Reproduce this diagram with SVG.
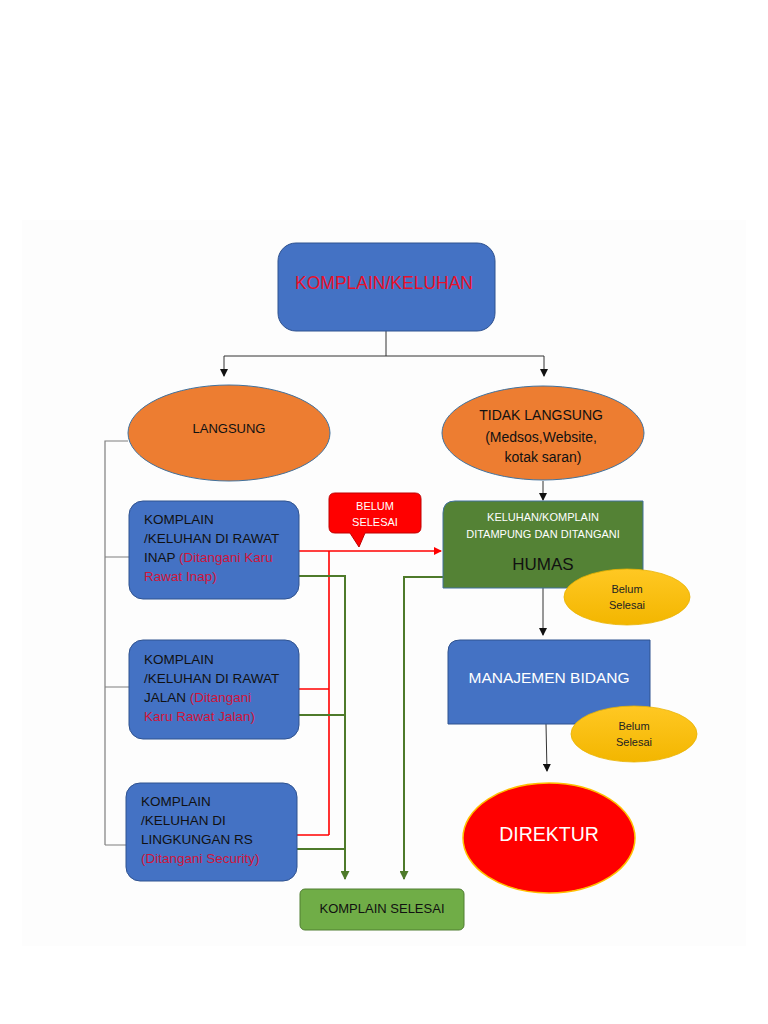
<svg xmlns="http://www.w3.org/2000/svg" width="768" height="1024" viewBox="0 0 768 1024">
<defs>
<style>
text{font-family:"Liberation Sans","Noto Sans",Arial,sans-serif}
.blue{fill:#4472c4;stroke:#2f528f;stroke-width:1}
.orange{fill:#ed7d31;stroke:#41719c;stroke-width:1}
.gold{fill:url(#g);stroke:#e8b200;stroke-width:0.8}
.gray{stroke:#7f7f7f;stroke-width:1.2;fill:none}
.red{stroke:#ff0000;stroke-width:1.6;fill:none}
.grn{stroke:#4e7a2a;stroke-width:2;fill:none}
.blk{stroke:#333;stroke-width:1;fill:none}
.t{font-size:13.5px;fill:#111}
.r{fill:#d0153a}
</style>
<linearGradient id="g" x1="0" y1="0" x2="0" y2="1">
<stop offset="0" stop-color="#ffc823"/>
<stop offset="1" stop-color="#f3b600"/>
</linearGradient>
<marker id="ab" markerWidth="8" markerHeight="8" refX="7" refY="4" orient="auto" markerUnits="userSpaceOnUse">
<path d="M0,0 L8,4 L0,8 Z" fill="#111"/>
</marker>
<marker id="ar" markerWidth="8" markerHeight="8" refX="7" refY="4" orient="auto" markerUnits="userSpaceOnUse">
<path d="M0,0 L8,4 L0,8 Z" fill="#ff0000"/>
</marker>
<marker id="ag" markerWidth="9" markerHeight="9" refX="8" refY="4.5" orient="auto" markerUnits="userSpaceOnUse">
<path d="M0,0 L9,4.5 L0,9 Z" fill="#4e7a2a"/>
</marker>
</defs>
<rect x="0" y="0" width="768" height="1024" fill="#ffffff"/>
<rect x="22" y="220" width="724" height="726" fill="#fdfdfd"/>

<g id="connectors">
<path class="blk" d="M386,331 V356 M224,356 H544 M224,356 V376" marker-end="url(#ab)"/>
<path class="blk" d="M544,356 V376" marker-end="url(#ab)"/>
<path class="blk" d="M543,481 V500" marker-end="url(#ab)"/>
<path class="blk" d="M543,588 V635" marker-end="url(#ab)"/>
<path class="blk" d="M546,724 L547,771" marker-end="url(#ab)"/>
<path class="gray" d="M128,441 H105 V845 M105,557 H129 M105,687 H129 M105,845 H126"/>
<path class="red" d="M299,551 H441" marker-end="url(#ar)"/>
<path class="red" d="M329,551 V835 M299,689 H329 M297,835 H329"/>
<path class="grn" d="M299,576 H345 V879" marker-end="url(#ag)"/>
<path class="grn" d="M299,715 H345 M297,849 H345"/>
<path class="grn" d="M443,577 H404 V879" marker-end="url(#ag)"/>
</g>

<g id="komplain">
<rect class="blue" x="278" y="243" width="217" height="88" rx="18"/>
<text x="384" y="289" font-size="17.5" fill="#e8102a" text-anchor="middle">KOMPLAIN/KELUHAN</text>
</g>

<g id="langsung">
<ellipse class="orange" cx="229" cy="433" rx="101" ry="48"/>
<text x="229" y="433" font-size="13" fill="#111" text-anchor="middle">LANGSUNG</text>
</g>

<g id="tidak-langsung">
<ellipse class="orange" cx="543" cy="433" rx="101" ry="47"/>
<text font-size="14" fill="#111" text-anchor="middle">
<tspan x="543" y="420">TIDAK LANGSUNG</tspan>
<tspan x="543" y="442">(Medsos,Website,</tspan>
<tspan x="543" y="462">kotak saran)</tspan>
</text>
</g>

<g id="rawat-inap">
<rect class="blue" x="129" y="501" width="170" height="98" rx="14"/>
<text class="t"><tspan x="144" y="524">KOMPLAIN</tspan><tspan x="144" y="543">/KELUHAN DI RAWAT</tspan><tspan x="144" y="562">INAP <tspan class="r">(Ditangani Karu</tspan></tspan><tspan x="144" y="581" class="r">Rawat Inap)</tspan></text>
</g>

<g id="rawat-jalan">
<rect class="blue" x="129" y="640" width="170" height="99" rx="14"/>
<text class="t"><tspan x="144" y="664">KOMPLAIN</tspan><tspan x="144" y="683">/KELUHAN DI RAWAT</tspan><tspan x="144" y="702">JALAN  <tspan class="r">(Ditangani</tspan></tspan><tspan x="144" y="721" class="r">Karu Rawat Jalan)</tspan></text>
</g>

<g id="lingkungan">
<rect class="blue" x="126" y="783" width="171" height="98" rx="14"/>
<text class="t"><tspan x="141" y="806">KOMPLAIN</tspan><tspan x="141" y="825">/KELUHAN DI</tspan><tspan x="141" y="844">LINGKUNGAN RS</tspan><tspan x="141" y="863" class="r">(Ditangani  Security)</tspan></text>
</g>

<g id="belum-selesai-callout">
<path d="M335,493 H415 Q421,493 421,499 V527 Q421,533 415,533 H365 L359,547 L350,533 H335 Q329,533 329,527 V499 Q329,493 335,493 Z" fill="#ff0000" stroke="#c00000" stroke-width="1"/>
<text font-size="11" fill="#ffffff" text-anchor="middle"><tspan x="375" y="510">BELUM</tspan><tspan x="375" y="526">SELESAI</tspan></text>
</g>

<g id="humas">
<path d="M455,501 H643 V588 H443 V513 Q443,501 455,501 Z" fill="#548235" stroke="#41719c" stroke-width="1"/>
<text font-size="11" fill="#ffffff" text-anchor="middle"><tspan x="543" y="521">KELUHAN/KOMPLAIN</tspan><tspan x="543" y="538">DITAMPUNG DAN DITANGANI</tspan></text>
<text x="543" y="570" font-size="17" fill="#111" text-anchor="middle">HUMAS</text>
</g>

<g id="belum-selesai-1">
<ellipse class="gold" cx="627" cy="597" rx="63" ry="28"/>
<text font-size="11" fill="#222" text-anchor="middle"><tspan x="627" y="593">Belum</tspan><tspan x="627" y="609">Selesai</tspan></text>
</g>

<g id="manajemen">
<path d="M460,640 H650 V724 H448 V652 Q448,640 460,640 Z" fill="#4472c4" stroke="#2f528f" stroke-width="1"/>
<text x="549" y="683" font-size="15.5" fill="#ffffff" text-anchor="middle">MANAJEMEN BIDANG</text>
</g>

<g id="belum-selesai-2">
<ellipse class="gold" cx="634" cy="734" rx="63" ry="28"/>
<text font-size="11" fill="#222" text-anchor="middle"><tspan x="634" y="730">Belum</tspan><tspan x="634" y="746">Selesai</tspan></text>
</g>

<g id="direktur">
<ellipse cx="549" cy="838" rx="86" ry="55" fill="#ff0000" stroke="#ffc000" stroke-width="1.5"/>
<text x="549" y="841" font-size="19.5" fill="#ffffff" text-anchor="middle">DIREKTUR</text>
</g>

<g id="komplain-selesai">
<rect x="300" y="889" width="164" height="41" rx="5" fill="#70ad47" stroke="#507e32" stroke-width="1"/>
<text x="382" y="913" font-size="13" fill="#111" text-anchor="middle">KOMPLAIN SELESAI</text>
</g>
</svg>
